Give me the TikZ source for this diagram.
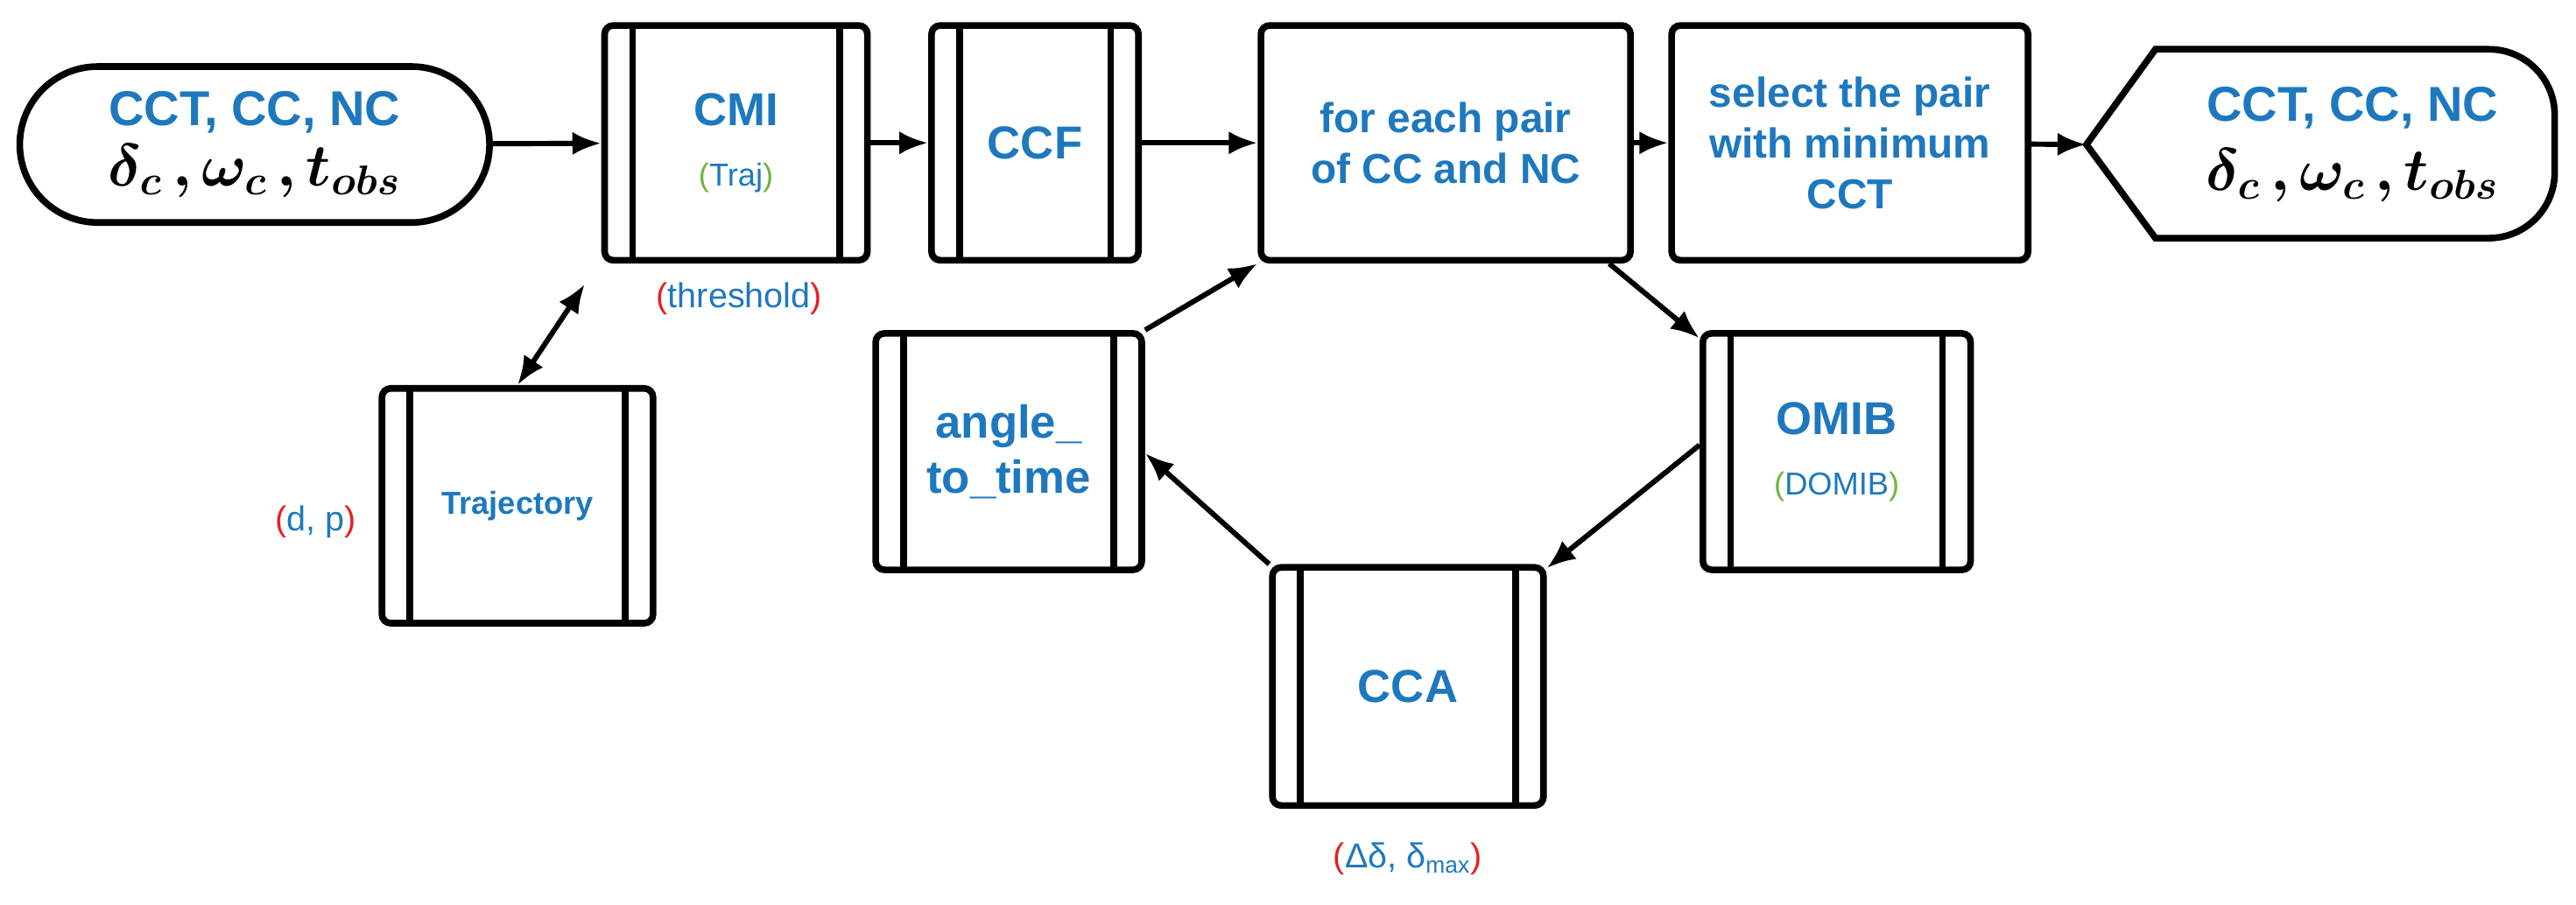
\documentclass[tikz,border=0pt]{standalone}
\usepackage{fontspec}
\setmainfont{Liberation Sans}
\usetikzlibrary{arrows.meta}
\definecolor{tblue}{RGB}{30,120,190}
\definecolor{tred}{RGB}{235,30,35}
\definecolor{tgreen}{RGB}{110,180,60}
\tikzset{
  lw/.style={line width=2.3pt},
  pbox/.style={lw, draw, rounded corners=3pt, align=center, text=tblue,
    font=\fontsize{16}{19}\selectfont\bfseries,
    minimum width=3.2cm, minimum height=2.86cm,
    path picture={
      \draw[lw] ([xshift=0.34cm]path picture bounding box.north west) -- ([xshift=0.34cm]path picture bounding box.south west);
      \draw[lw] ([xshift=-0.34cm]path picture bounding box.north east) -- ([xshift=-0.34cm]path picture bounding box.south east);}},
  sbox/.style={lw, draw, rounded corners=3pt, align=center, text=tblue,
    font=\fontsize{14.5}{17.5}\selectfont\bfseries, minimum width=4.5cm, minimum height=2.86cm},
  arr/.style={line width=1.8pt, -{Latex[length=10pt,width=8pt]}},
  lab/.style={font=\fontsize{12}{14}\selectfont}
}
\newcommand{\rp}[1]{\textcolor{tred}{(}\textcolor{tblue}{#1}\textcolor{tred}{)}}
\newcommand{\gp}[1]{\textcolor{tgreen}{(}\textcolor{tblue}{#1}\textcolor{tgreen}{)}}
\newcommand{\terms}{{\fontsize{20}{22}\selectfont$\boldsymbol{\delta_c\,,\omega_c\,,t_{obs}}$}}
\usepackage{amsmath,bm}
\begin{document}
\begin{tikzpicture}[x=0.02cm,y=-0.02cm]
\useasboundingbox (0,0) rectangle (1568,551);
% start terminal
\node[lw, draw, rounded corners=0.95cm, minimum width=5.72cm, minimum height=1.9cm,
  align=center, inner sep=0pt] (start) at (155,88)
  {\textcolor{tblue}{\fontsize{17}{18}\selectfont\bfseries CCT, CC, NC}\\[3pt]\terms};
% boxes
\node[pbox] (cmi) at (448,87) {CMI\\[2pt]{\fontsize{11}{13}\mdseries\selectfont\gp{Traj}}};
\node[pbox, minimum width=2.52cm] (ccf) at (630,87) {CCF};
\node[sbox] (pair) at (880,87) {for each pair\\of CC and NC};
\node[sbox, minimum width=4.34cm] (sel) at (1126,87) {select the pair\\with minimum\\CCT};
\node[pbox, minimum width=3.3cm, font=\fontsize{11}{13}\selectfont\bfseries] (traj) at (315,308) {Trajectory};
\node[pbox, minimum width=3.24cm, minimum height=2.88cm] (ang) at (614,275) {angle\_\\to\_time};
\node[pbox, minimum width=3.26cm, minimum height=2.88cm] (omib) at (1118,275) {OMIB\\[2pt]{\fontsize{11}{13}\mdseries\selectfont\gp{DOMIB}}};
\node[pbox, minimum width=3.3cm, minimum height=2.9cm] (cca) at (857,418) {CCA};
% output display
\coordinate (o1) at (1270,88);
\draw[lw] (o1) -- (1312,30) [rounded corners=0.8cm] -- (1555,30) -- (1555,145) [sharp corners] -- (1312,145) -- cycle;
\node[align=center] (out) at (1432,88)
  {\textcolor{tblue}{\fontsize{17}{18}\selectfont\bfseries CCT, CC, NC}\\[6pt]\terms};
% labels
\node[lab] (thr) at (450,182) {\rp{threshold}};
\node[lab] (dp) at (192,318) {\rp{d, p}};
\node[lab] (dd) at (857,523) {\rp{Δδ, δ\textsubscript{max}}};
% connectors
\draw[arr] (start) -- (cmi);
\draw[arr] (cmi) -- (ccf);
\draw[arr] (ccf) -- (pair);
\draw[arr] (pair) -- (sel);
\draw[arr] (sel) -- (o1);
\draw[line width=1.8pt, {Latex[length=10pt,width=8pt]}-{Latex[length=10pt,width=8pt]}] (traj.north) -- ([xshift=-0.2cm,yshift=-0.25cm]cmi.south west);
\draw[arr] ([xshift=-0.3cm]pair.south east) -- ([yshift=-0.1cm]omib.north west);
\draw[arr] ([yshift=-1.4cm]omib.north west) -- ([yshift=-0.05cm]cca.north east);
\draw[arr] (cca.north west) -- ([yshift=-1.5cm]ang.north east);
\draw[arr] (ang.north east) -- (pair.south west);
\end{tikzpicture}
\end{document}
